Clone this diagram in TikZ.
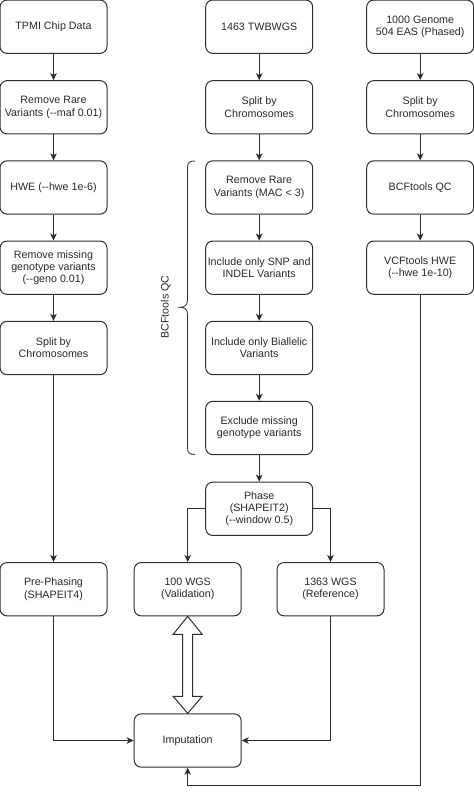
\documentclass[tikz,border=0pt]{standalone}
\usepackage{fontspec}
\setmainfont{Liberation Sans}
\usetikzlibrary{arrows.meta,calc}
\definecolor{ln}{RGB}{45,45,45}
\definecolor{tx}{RGB}{40,40,40}
\begin{document}
\begin{tikzpicture}[x=1pt,y=-1pt,
  box/.style={draw=ln, line width=1pt, rounded corners=7pt, minimum width=107pt, minimum height=53.3pt,
    align=center, inner sep=1pt, text=tx, font=\fontsize{10.7}{12.3}\selectfont},
  arr/.style={draw=ln, line width=1pt, -{Stealth[length=7pt,width=6.5pt,inset=1.8pt]}},
  blockarrow/.style={draw=ln, line width=1pt, fill=white, line join=miter}]
\useasboundingbox (0,0) rectangle (474,793);
% left column
\node[box] (a1) at (53.5,26.7) {TPMI Chip Data};
\node[box] (a2) at (53.5,107.3) {Remove Rare\\Variants (-{}-maf 0.01)};
\node[box] (a3) at (53.5,187.5) {HWE (-{}-hwe 1e-6)};
\node[box] (a4) at (53.5,267.7) {Remove missing\\genotype variants\\(-{}-geno 0.01)};
\node[box] (a5) at (53.5,348) {Split by\\Chromosomes};
\node[box] (pp) at (53.5,589.2) {Pre-Phasing\\(SHAPEIT4)};
% middle column
\node[box] (b1) at (259.2,26.7) {1463 TWBWGS};
\node[box] (b2) at (259.2,107.3) {Split by\\Chromosomes};
\node[box] (b3) at (259.2,187.5) {Remove Rare\\Variants (MAC < 3)};
\node[box] (b4) at (259.2,267.7) {Include only SNP and\\INDEL Variants};
\node[box] (b5) at (259.2,348) {Include only Biallelic\\Variants};
\node[box] (b6) at (259.2,428) {Exclude missing\\genotype variants};
\node[box] (ph) at (259.2,508.8) {Phase\\(SHAPEIT2)\\(-{}-window 0.5)};
\node[box] (v) at (187.7,589.2) {100 WGS\\(Validation)};
\node[box] (r) at (330.5,589.2) {1363 WGS\\(Reference)};
\node[box] (imp) at (187.7,740.5) {Imputation};
% right column
\node[box] (c1) at (420.2,26.7) {1000 Genome\\504 EAS (Phased)};
\node[box] (c2) at (420.2,107.3) {Split by\\Chromosomes};
\node[box] (c3) at (420.2,187.5) {BCFtools QC};
\node[box] (c4) at (420.2,267.7) {VCFtools HWE\\(-{}-hwe 1e-10)};
% connectors
\draw[arr] (a1) -- (a2);
\draw[arr] (a2) -- (a3);
\draw[arr] (a3) -- (a4);
\draw[arr] (a4) -- (a5);
\draw[arr] (a5) -- (pp);
\draw[arr] (b1) -- (b2);
\draw[arr] (b2) -- (b3);
\draw[arr] (b3) -- (b4);
\draw[arr] (b4) -- (b5);
\draw[arr] (b5) -- (b6);
\draw[arr] (b6) -- (ph);
\draw[arr] (c1) -- (c2);
\draw[arr] (c2) -- (c3);
\draw[arr] (c3) -- (c4);
\draw[arr] (ph.west) -| (v.north);
\draw[arr] (ph.east) -| (r.north);
\draw[arr] (pp.south) |- (imp.west);
\draw[arr] (r.south) |- (imp.east);
\coordinate (bot) at (0,785);
\draw[arr] (c4.south) -- (c4.south |- bot) -- (imp.south |- bot) -- (imp.south);
% double block arrow
\draw[blockarrow] (v.south) -- ++(14.5,18) -- ++(-9.5,0) -- ($(imp.north)+(5,-17)$) -- ++(9.5,0)
  -- (imp.north) -- ++(-14.5,-17) -- ++(9.5,0) -- ($(v.south)+(-5,18)$) -- ++(-9.5,0) -- cycle;
% brace
\draw[draw=ln, line width=0.8pt] (195,161) .. controls (189.5,161) and (187.5,162.5) .. (187.5,168)
  -- (187.5,300) .. controls (187.5,305) and (185,307.3) .. (180,307.3)
  .. controls (185,307.3) and (187.5,309.5) .. (187.5,314.5)
  -- (187.5,447.5) .. controls (187.5,453) and (189.5,454.5) .. (195,454.5);
\node[rotate=90, text=tx, font=\fontsize{10.7}{12.3}\selectfont] (lbl) at (165.7,307) {BCFtools QC};
\end{tikzpicture}
\end{document}
